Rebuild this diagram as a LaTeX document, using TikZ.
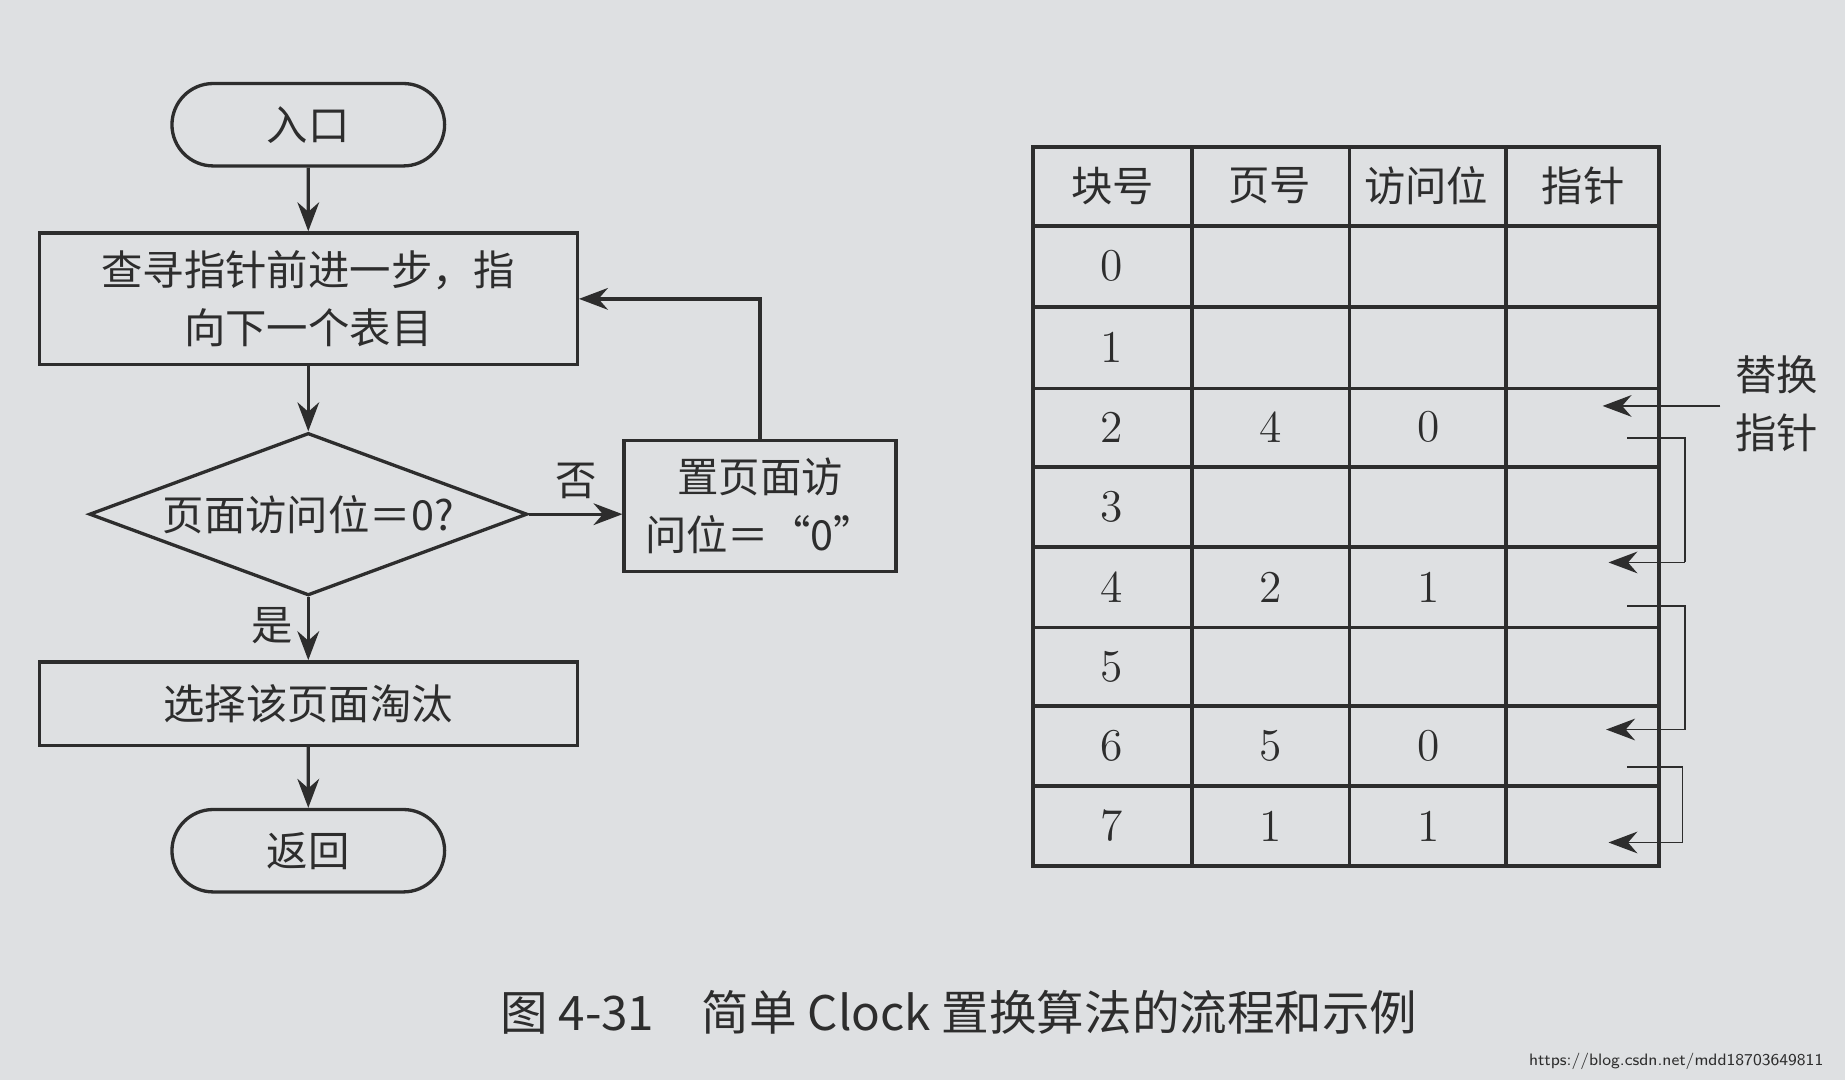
\documentclass[tikz,border=0pt]{standalone}
\usepackage{fontspec}
\newfontfamily\cjk{Noto Sans CJK SC}
\usetikzlibrary{shapes.geometric,shapes.misc,arrows.meta,positioning}
\definecolor{ink}{RGB}{45,45,45}
\definecolor{paper}{RGB}{222,224,226}
\tikzset{
  box/.style={draw=ink,thick,align=center,font=\cjk\fontsize{10}{14}\selectfont,text=ink},
  term/.style={box,rounded rectangle,minimum width=2.55cm,minimum height=0.7cm},
  flow/.style={draw=ink,thick,-{Stealth[length=7pt]}},
  cell/.style={text=ink,font=\fontsize{11}{13}\selectfont}
}
\begin{document}
\begin{tikzpicture}[x=0.01cm,y=-0.01cm]
  \fill[paper] (0,0) rectangle (1568,918);
  \useasboundingbox (0,0) rectangle (1568,918);
  % flowchart
  \node[term] (IN) at (262,106) {入口};
  \node[box,minimum width=4.57cm,minimum height=1.12cm] (STEP) at (262,254) {查寻指针前进一步，指\\向下一个表目};
  \node[box,diamond,aspect=2.7,inner sep=1pt,minimum width=3.72cm,minimum height=1.38cm] (TEST) at (262,437) {页面访问位＝0?};
  \node[box,minimum width=2.31cm,minimum height=1.11cm] (RESET) at (646,430) {置页面访\\问位＝“0”};
  \node[box,minimum width=4.57cm,minimum height=0.71cm] (PICK) at (262,598) {选择该页面淘汰};
  \node[term] (OUT) at (262,723) {返回};
  \draw[flow] (IN) -- (STEP);
  \draw[flow] (STEP) -- (TEST);
  \draw[flow] (TEST) -- (PICK) node[pos=0.45,left,text=ink,font=\cjk\fontsize{10}{12}\selectfont] {是};
  \draw[flow] (PICK) -- (OUT);
  \draw[flow] (TEST.east) -- (RESET.west |- TEST.east) node[pos=0.5,above,text=ink,font=\cjk\fontsize{10}{12}\selectfont] {否};
  \draw[flow] (RESET.north) |- (STEP.east);
  % table
  \draw[ink,thick] (878,125) rectangle (1410,736);
  \foreach \x in {1013,1147,1280} \draw[ink,thick] (\x,125) -- (\x,736);
  \foreach \y in {192,261,330,397,465,533,600,668} \draw[ink,thick] (878,\y) -- (1410,\y);
  \foreach \t [count=\i from 0] in {块号,页号,访问位,指针}
    \node[cell,font=\cjk\fontsize{10}{12}\selectfont] (H\i) at ({945.5+133.3*\i},158) {\t};
  \foreach \r/\y in {0/226,1/295,2/363,3/431,4/499,5/567,6/634,7/702} {
    \node[cell] (B\r) at (945,\y) {\r};
    \coordinate (P\r) at (1345,\y);
  }
  \node[cell] at (1080,363) {4}; \node[cell] at (1214,363) {0};
  \node[cell] at (1080,499) {2}; \node[cell] at (1214,499) {1};
  \node[cell] at (1080,634) {5}; \node[cell] at (1214,634) {0};
  \node[cell] at (1080,702) {1}; \node[cell] at (1214,702) {1};
  % pointers
  \node[text=ink,align=center,font=\cjk\fontsize{10}{14}\selectfont] (PTR) at (1510,343) {替换\\指针};
  \draw[flow,thin] (1462,345) -- (1362,345);
  \draw[ink] (1383,372) -- (1432,372) -- (1432,478);
  \draw[flow,thin] (1432,478) -- (1367,478);
  \draw[ink] (1383,515) -- (1432,515) -- (1432,620);
  \draw[flow,thin] (1432,620) -- (1365,620);
  \draw[ink] (1383,652) -- (1430,652) -- (1430,716);
  \draw[flow,thin] (1430,716) -- (1367,716);
  % caption
  \node[text=ink,font=\cjk\fontsize{11.5}{14}\selectfont] (CAP) at (815,860) {图 4-31\quad 简单 Clock 置换算法的流程和示例};
  \node[anchor=east,text=ink,font=\sffamily\fontsize{4}{5}\selectfont] (URL) at (1562,902) {https://blog.csdn.net/mdd18703649811};
\end{tikzpicture}
\end{document}
